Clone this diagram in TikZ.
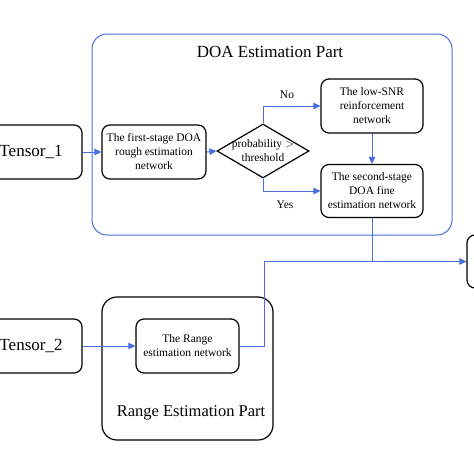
\documentclass[tikz,border=0pt]{standalone}
\usepackage{fontspec}
\setmainfont{Liberation Serif}
\usetikzlibrary{shapes.geometric,arrows.meta}
\definecolor{lblue}{RGB}{70,110,225}
\tikzset{
  box/.style={draw=black, line width=1.2pt, rounded corners=8pt, align=center, inner sep=1pt,
    font=\fontsize{11.5}{14}\selectfont},
  region/.style={line width=1pt, rounded corners=15pt},
  conn/.style={draw=lblue, line width=1pt},
  arr/.style={conn, -{Triangle[length=7pt,width=6.5pt]}},
  lbl/.style={font=\fontsize{11.5}{14}\selectfont},
  title/.style={font=\fontsize{17}{20}\selectfont}
}
\begin{document}
\begin{tikzpicture}[x=1pt,y=-1pt]
\useasboundingbox (0,0) rectangle (474,474);
\fill[white] (0,0) rectangle (474,474);
% regions
\draw[region, draw=lblue] (92,34) rectangle (452,235);
\draw[region, draw=black, line width=1.2pt] (102,297) rectangle (273,440);
\node[title] (doatitle) at (270,52) {DOA Estimation Part};
\node[title, font=\fontsize{16.5}{20}\selectfont] (rngtitle) at (191,413) {Range Estimation Part};
% nodes
\node[box, minimum width=102pt, minimum height=54pt, font=\fontsize{17}{20}\selectfont] (t1) at (31,152) {Tensor\_1};
\node[box, minimum width=104pt, minimum height=54pt] (fs) at (154,152) {The first-stage DOA\\rough estimation\\network};
\node[diamond, draw=black, line width=1.2pt, minimum width=92pt, minimum height=54pt, inner sep=0pt] (dia) at (263,151) {};
\node[lbl, align=center] (diatext) at (263,151) {probability $>$\\threshold};
\node[box, minimum width=102pt, minimum height=54pt] (low) at (372,106) {The low-SNR\\reinforcement\\network};
\node[box, minimum width=102pt, minimum height=53pt] (ss) at (372,191) {The second-stage\\DOA fine\\estimation network};
\node[box, minimum width=102pt, minimum height=54pt, font=\fontsize{17}{20}\selectfont] (t2) at (31,346) {Tensor\_2};
\node[box, minimum width=103pt, minimum height=54pt] (rng) at (187.5,346) {The Range\\estimation network};
\node[box, minimum width=106pt, minimum height=53pt] (out) at (520,261.5) {};
% labels
\node[lbl] (no) at (287,95) {No};
\node[lbl] (yes) at (285,205) {Yes};
% connectors
\draw[arr] (t1.east) -- (fs.west);
\draw[arr] (fs.east) -- (dia.west);
\draw[arr] (dia.north) |- (low.west);
\draw[arr] (dia.south) |- (ss.west);
\draw[arr] (low.south) -- (ss.north);
\draw[conn] (ss.south) -- (ss.south |- out.west);
\draw[arr] (rng.east) -- ++(25,0) |- (out.west);
\draw[arr] (t2.east) -- (rng.west);
\end{tikzpicture}
\end{document}
